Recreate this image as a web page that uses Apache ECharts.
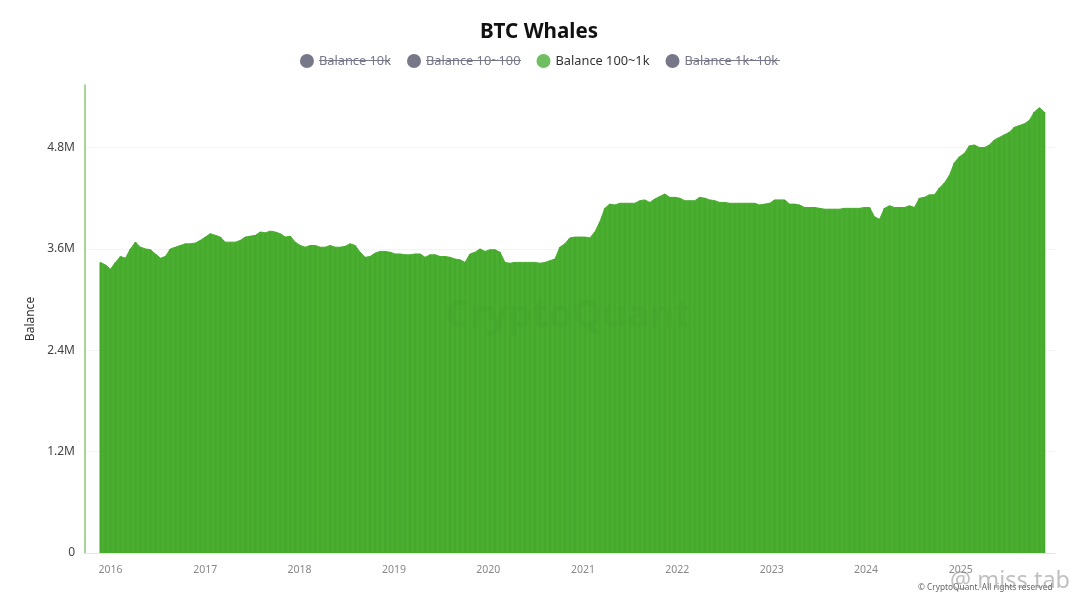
<!DOCTYPE html>
<html>
<head>
<meta charset="utf-8">
<style>html,body{margin:0;padding:0;background:#fff}#c{width:1078px;height:605px}</style>
<script src="https://cdn.jsdelivr.net/npm/echarts@6/dist/echarts.min.js"></script>
</head>
<body>
<div id="c"></div>
<script>
const seriesNames = ['Balance 10k', 'Balance 10~100', 'Balance 100~1k', 'Balance 1k~10k'];
const firstDate = '2015-11-23';
const stepDays = 19.315;
// Balance 100~1k, in millions of BTC
const balance100to1k = [
3.44,3.41,3.36,3.44,3.51,3.49,3.60,3.68,3.62,3.60,3.59,3.54,3.49,3.51,3.60,3.62,3.64,3.66,3.66,3.67,
3.70,3.74,3.78,3.76,3.74,3.68,3.68,3.68,3.70,3.74,3.75,3.76,3.80,3.79,3.81,3.80,3.78,3.74,3.75,3.68,
3.64,3.62,3.64,3.64,3.62,3.62,3.64,3.62,3.62,3.63,3.66,3.64,3.56,3.50,3.51,3.55,3.57,3.57,3.56,3.54,
3.54,3.53,3.53,3.54,3.54,3.50,3.53,3.53,3.51,3.51,3.50,3.48,3.47,3.44,3.54,3.56,3.60,3.57,3.59,3.59,
3.56,3.44,3.43,3.44,3.44,3.44,3.44,3.44,3.43,3.44,3.46,3.48,3.62,3.66,3.73,3.74,3.74,3.74,3.73,3.80,
3.92,4.08,4.13,4.12,4.14,4.14,4.14,4.14,4.17,4.18,4.15,4.19,4.22,4.25,4.21,4.21,4.20,4.17,4.17,4.17,
4.21,4.20,4.18,4.17,4.15,4.15,4.14,4.14,4.14,4.14,4.14,4.14,4.12,4.13,4.14,4.18,4.18,4.18,4.13,4.13,
4.12,4.09,4.09,4.09,4.08,4.07,4.07,4.07,4.07,4.08,4.08,4.08,4.08,4.09,4.09,3.98,3.95,4.08,4.11,4.09,
4.09,4.09,4.11,4.09,4.20,4.21,4.24,4.24,4.32,4.38,4.47,4.62,4.69,4.73,4.82,4.83,4.80,4.80,4.83,4.89,
4.92,4.95,4.98,5.04,5.06,5.08,5.12,5.22,5.27,5.22
];
const yTicks = { min: 0, max: 5.54, interval: 1.2 };
const FONT = '"Noto Sans", sans-serif';
const t0 = new Date(firstDate + 'T00:00:00Z').getTime();
const rows = balance100to1k.map((v, i) => [t0 + i * stepDays * 864e5, v]);
const chart = echarts.init(document.getElementById('c'));
chart.setOption({
  animation: false,
  backgroundColor: '#fff',
  title: { text: 'BTC Whales', left: 'center', top: 17,
    textStyle: { fontFamily: FONT, fontSize: 20.6, fontWeight: 'bold', color: '#111' } },
  legend: {
    top: 49, left: 'center', icon: 'circle', itemWidth: 14, itemHeight: 14, itemGap: 16,
    data: seriesNames.map(n => n === 'Balance 100~1k' ? { name: n, itemStyle: { color: '#6fbe5f' } } : { name: n }),
    inactiveColor: '#77778a',
    selected: { 'Balance 10k': false, 'Balance 10~100': false, 'Balance 100~1k': true, 'Balance 1k~10k': false },
    textStyle: { fontFamily: FONT, fontSize: 12.8, color: '#333' }
  },
  grid: { left: 85, right: 23, top: 85, bottom: 52 },
  xAxis: {
    type: 'time',
    min: '2015-09-28', max: '2025-12-28',
    splitNumber: 10,
    axisLine: { lineStyle: { color: '#dfe8dc' } },
    axisTick: { show: false },
    splitLine: { show: false },
    axisLabel: { formatter: '{yyyy}', fontFamily: FONT, fontSize: 10.5, color: '#888', margin: 12,
      showMinLabel: false, showMaxLabel: false, hideOverlap: true }
  },
  yAxis: {
    type: 'value', min: yTicks.min, max: yTicks.max, interval: yTicks.interval,
    name: 'Balance', nameLocation: 'middle', nameGap: 46,
    nameTextStyle: { fontFamily: FONT, fontSize: 12, color: '#333' },
    axisLine: { show: true, lineStyle: { color: '#86c878', width: 1.5 } },
    axisTick: { show: false },
    splitLine: { show: true, showMaxLine: false, lineStyle: { color: '#f4f4f4' } },
    axisLabel: { fontFamily: FONT, fontSize: 12, color: '#444', margin: 10, showMaxLabel: false,
      formatter: v => v === 0 ? '0' : v + 'M' }
  },
  series: [
    { name: seriesNames[0], type: 'bar', data: [], itemStyle: { color: '#77778a' } },
    { name: seriesNames[1], type: 'bar', data: [], itemStyle: { color: '#77778a' } },
    { name: seriesNames[2], type: 'line', data: rows, showSymbol: false, z: 2,
      lineStyle: { color: '#4aae30', width: 1 }, itemStyle: { color: '#4aae30' },
      areaStyle: { color: '#4aae30', opacity: 1 } },
    { name: seriesNames[2], type: 'bar', data: rows, barWidth: 2, z: 3,
      itemStyle: { color: '#46a92d' } },
    { name: seriesNames[3], type: 'bar', data: [], itemStyle: { color: '#77778a' } }
  ],
  graphic: [
    { type: 'line', shape: { x1: 319, y1: 60.5, x2: 390, y2: 60.5 }, style: { stroke: '#77778a', lineWidth: 1 } },
    { type: 'line', shape: { x1: 426, y1: 60.5, x2: 521, y2: 60.5 }, style: { stroke: '#77778a', lineWidth: 1 } },
    { type: 'line', shape: { x1: 686, y1: 60.5, x2: 780, y2: 60.5 }, style: { stroke: '#77778a', lineWidth: 1 } },
    { type: 'text', left: 445, top: 297, z: 10, style: { text: 'CryptoQuant', fontFamily: FONT, fontSize: 38, fontWeight: 'bold', fill: 'rgba(60,150,40,0.12)' } },
    { type: 'text', left: 918, top: 584, z: 10, style: { text: '© CryptoQuant. All rights reserved', fontFamily: FONT, fontSize: 8.3, fill: '#666' } },
    { type: 'text', left: 950, top: 569, z: 11, style: { text: '@ miss tab', fontFamily: FONT, fontSize: 23.5, fill: 'rgba(150,150,150,0.6)' } }
  ]
});
</script>
</body>
</html>
